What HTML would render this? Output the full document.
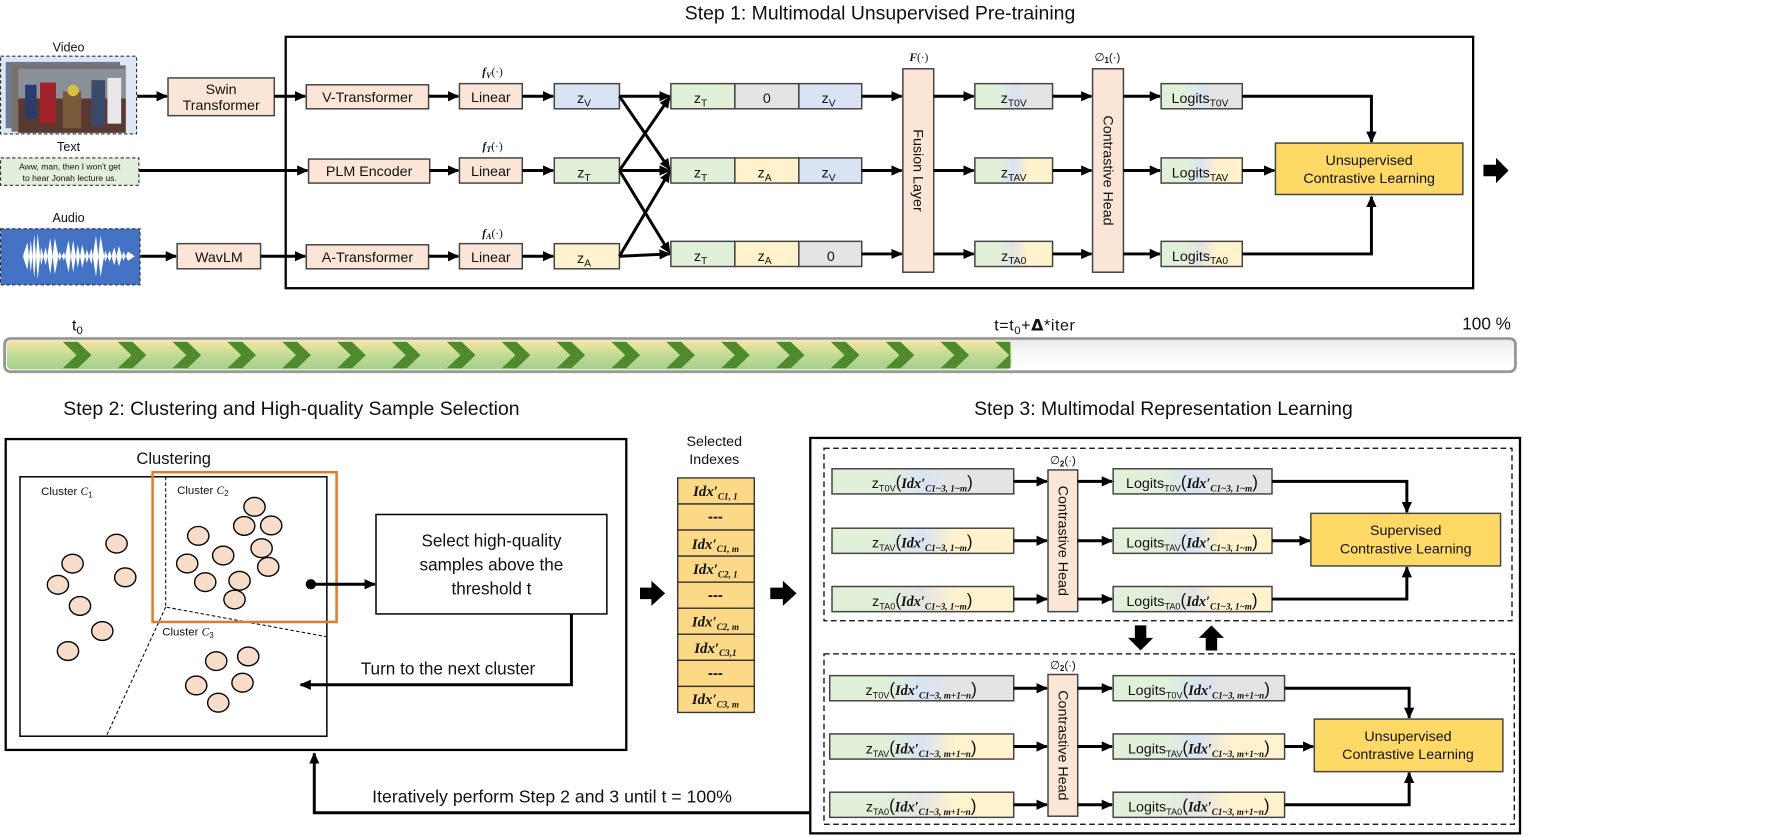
<!DOCTYPE html>
<html><head><meta charset="utf-8"><style>
html,body{margin:0;padding:0;background:#fff;}
svg{display:block;}
text{font-family:"Liberation Sans",Arial,sans-serif;fill:#111;}
.m{font-family:"Liberation Serif",serif;font-style:italic;font-weight:bold;}
.b{fill:#fbe5d6;stroke:#444;stroke-width:1.3;}
.l{stroke:#000;stroke-width:2.6;fill:none;}
</style></head><body>
<svg width="1792" height="837" viewBox="0 0 1568 732" xmlns="http://www.w3.org/2000/svg">
<defs>
<marker id="a" markerWidth="10" markerHeight="10" refX="9" refY="5" orient="auto" markerUnits="userSpaceOnUse"><path d="M0,0.5 L10,5 L0,9.5z" fill="#000"/></marker>
<linearGradient id="g0v" x1="0" x2="1"><stop offset="0" stop-color="#e2f0d9"/><stop offset="0.3" stop-color="#e2f0d9"/><stop offset="0.5" stop-color="#dae3f3"/><stop offset="0.65" stop-color="#e4e4e4"/><stop offset="1" stop-color="#e4e4e4"/></linearGradient>
<linearGradient id="gav" x1="0" x2="1"><stop offset="0" stop-color="#e2f0d9"/><stop offset="0.3" stop-color="#e2f0d9"/><stop offset="0.5" stop-color="#dae3f3"/><stop offset="0.68" stop-color="#fff2cc"/><stop offset="1" stop-color="#fff2cc"/></linearGradient>
<linearGradient id="ga0" x1="0" x2="1"><stop offset="0" stop-color="#e2f0d9"/><stop offset="0.3" stop-color="#e2f0d9"/><stop offset="0.5" stop-color="#e4e4e4"/><stop offset="0.68" stop-color="#fff2cc"/><stop offset="1" stop-color="#fff2cc"/></linearGradient>
<linearGradient id="gbar" x1="0" y1="0" x2="0" y2="1"><stop offset="0" stop-color="#f6e6a0"/><stop offset="0.6" stop-color="#b8d996"/><stop offset="1" stop-color="#a6d08a"/></linearGradient>
<linearGradient id="gwh" x1="0" y1="0" x2="0" y2="1"><stop offset="0" stop-color="#e8e8e8"/><stop offset="0.5" stop-color="#fafafa"/><stop offset="1" stop-color="#ffffff"/></linearGradient>
</defs>

<!-- STEP 1 -->
<text x="770" y="17" font-size="17" text-anchor="middle">Step 1: Multimodal Unsupervised Pre-training</text>
<rect x="250" y="32" width="1039" height="220" fill="none" stroke="#000" stroke-width="2"/>

<text x="60" y="45" font-size="11" text-anchor="middle">Video</text>
<rect x="0.5" y="49" width="119" height="68" fill="#dce7f3" stroke="#333" stroke-dasharray="3,2"/>
<rect x="5" y="54" width="100" height="58" fill="#6b7a93"/>
<rect x="10" y="57" width="100" height="58" fill="#7b6f6a"/>
<rect x="16" y="60" width="94" height="56" fill="#8a8f98"/>
<rect x="16" y="86" width="94" height="30" fill="#5a3a30"/>
<rect x="35" y="72" width="14" height="36" fill="#a0232a"/>
<rect x="55" y="80" width="16" height="32" fill="#7b5a3a"/>
<rect x="80" y="70" width="12" height="40" fill="#3a4a6a"/>
<rect x="94" y="68" width="12" height="40" fill="#e8e8ea"/>
<rect x="22" y="74" width="10" height="30" fill="#2b3b6b"/>
<circle cx="64" cy="79" r="5" fill="#d8c040"/>

<text x="60" y="132" font-size="11" text-anchor="middle">Text</text>
<rect x="0.5" y="138" width="121" height="24" fill="#e2efda" stroke="#333" stroke-dasharray="3,2"/>
<text x="61" y="148" font-size="7.5" text-anchor="middle">Aww, man, then I won't get</text>
<text x="61" y="158" font-size="7.5" text-anchor="middle">to hear Jonah lecture us.</text>

<text x="60" y="194" font-size="11" text-anchor="middle">Audio</text>
<rect x="0.5" y="200" width="122" height="49" fill="#4472c4" stroke="#333" stroke-dasharray="3,2"/>
<path d="M6,224 L20,224 L24,212 L27,238 L30,205 L33,244 L36,216 L40,232 L44,208 L48,240 L52,220 L56,228 L60,210 L64,238 L68,214 L72,234 L76,218 L80,231 L84,206 L88,242 L92,219 L96,229 L100,216 L104,233 L108,220 L112,228 L118,224 L112,220 L108,228 L104,215 L100,232 L96,219 L92,229 L88,206 L84,242 L80,217 L76,230 L72,214 L68,234 L64,210 L60,238 L56,220 L52,228 L48,208 L44,240 L40,216 L36,232 L33,204 L30,243 L27,210 L24,236 L20,224 Z" fill="#fff"/>

<rect class="b" x="147" y="68" width="93" height="33"/>
<text x="193.5" y="82" font-size="12.5" text-anchor="middle">Swin</text>
<text x="193.5" y="96" font-size="12.5" text-anchor="middle">Transformer</text>
<line class="l" x1="120" y1="84" x2="146" y2="84" marker-end="url(#a)"/>
<line class="l" x1="240" y1="84" x2="267" y2="84" marker-end="url(#a)"/>
<line class="l" x1="122" y1="149" x2="269" y2="149" marker-end="url(#a)"/>
<line class="l" x1="123" y1="224" x2="154" y2="224" marker-end="url(#a)"/>
<rect class="b" x="155" y="213" width="73" height="22"/>
<text x="191.5" y="229" font-size="12.5" text-anchor="middle">WavLM</text>
<line class="l" x1="228" y1="224" x2="267" y2="224" marker-end="url(#a)"/>

<rect class="b" x="268" y="74" width="107" height="21"/>
<text x="321.5" y="89" font-size="12.5" text-anchor="middle">V-Transformer</text>
<rect class="b" x="270" y="139" width="106" height="21"/>
<text x="323" y="154" font-size="12.5" text-anchor="middle">PLM Encoder</text>
<rect class="b" x="268" y="214" width="107" height="21"/>
<text x="321.5" y="229" font-size="12.5" text-anchor="middle">A-Transformer</text>

<g font-size="12.5" text-anchor="middle">
<line class="l" x1="375" y1="84" x2="401" y2="84" marker-end="url(#a)"/>
<line class="l" x1="376" y1="149" x2="401" y2="149" marker-end="url(#a)"/>
<line class="l" x1="375" y1="224" x2="401" y2="224" marker-end="url(#a)"/>
<rect class="b" x="402" y="73" width="55" height="22"/><text x="429.5" y="89">Linear</text>
<rect class="b" x="402" y="138" width="55" height="22"/><text x="429.5" y="154">Linear</text>
<rect class="b" x="402" y="213" width="55" height="22"/><text x="429.5" y="229">Linear</text>
</g>
<text class="m" x="431" y="66" font-size="10" text-anchor="middle">f<tspan font-size="7" dy="2">V</tspan><tspan dy="-2" font-weight="normal" font-style="normal">(·)</tspan></text>
<text class="m" x="431" y="131" font-size="10" text-anchor="middle">f<tspan font-size="7" dy="2">T</tspan><tspan dy="-2" font-weight="normal" font-style="normal">(·)</tspan></text>
<text class="m" x="431" y="207" font-size="10" text-anchor="middle">f<tspan font-size="7" dy="2">A</tspan><tspan dy="-2" font-weight="normal" font-style="normal">(·)</tspan></text>
<line class="l" x1="457" y1="84" x2="484" y2="84" marker-end="url(#a)"/>
<line class="l" x1="457" y1="149" x2="484" y2="149" marker-end="url(#a)"/>
<line class="l" x1="457" y1="224" x2="484" y2="224" marker-end="url(#a)"/>
<g font-size="12.5" text-anchor="middle" stroke="#444" stroke-width="1.3">
<rect x="485" y="73" width="57" height="22" fill="#dae3f3"/>
<rect x="485" y="138" width="57" height="22" fill="#e2f0d9"/>
<rect x="485" y="213" width="57" height="22" fill="#fff2cc"/>
</g>
<g font-size="12.5" text-anchor="middle">
<text x="511" y="90">z<tspan font-size="9" dy="3">V</tspan></text>
<text x="511" y="155">z<tspan font-size="9" dy="3">T</tspan></text>
<text x="511" y="230">z<tspan font-size="9" dy="3">A</tspan></text>
</g>
<!-- crossings -->
<g class="l">
<line x1="542" y1="84" x2="586" y2="84" marker-end="url(#a)"/>
<line x1="542" y1="84" x2="586" y2="148" marker-end="url(#a)"/>
<line x1="542" y1="149" x2="586" y2="85" marker-end="url(#a)"/>
<line x1="542" y1="149" x2="586" y2="149" marker-end="url(#a)"/>
<line x1="542" y1="149" x2="586" y2="221" marker-end="url(#a)"/>
<line x1="542" y1="224" x2="586" y2="150" marker-end="url(#a)"/>
<line x1="542" y1="224" x2="586" y2="222" marker-end="url(#a)"/>
</g>
<g stroke="#444" stroke-width="1.3">
<rect x="587" y="73" width="56" height="22" fill="#e2f0d9"/><rect x="643" y="73" width="56" height="22" fill="#e4e4e4"/><rect x="699" y="73" width="55" height="22" fill="#dae3f3"/>
<rect x="587" y="138" width="56" height="22" fill="#e2f0d9"/><rect x="643" y="138" width="56" height="22" fill="#fff2cc"/><rect x="699" y="138" width="55" height="22" fill="#dae3f3"/>
<rect x="587" y="211" width="56" height="22" fill="#e2f0d9"/><rect x="643" y="211" width="56" height="22" fill="#fff2cc"/><rect x="699" y="211" width="55" height="22" fill="#e4e4e4"/>
</g>
<g font-size="12.5" text-anchor="middle">
<text x="613" y="90">z<tspan font-size="9" dy="3">T</tspan></text><text x="671" y="90">0</text><text x="725" y="90">z<tspan font-size="9" dy="3">V</tspan></text>
<text x="613" y="155">z<tspan font-size="9" dy="3">T</tspan></text><text x="669" y="155">z<tspan font-size="9" dy="3">A</tspan></text><text x="725" y="155">z<tspan font-size="9" dy="3">V</tspan></text>
<text x="613" y="228">z<tspan font-size="9" dy="3">T</tspan></text><text x="669" y="228">z<tspan font-size="9" dy="3">A</tspan></text><text x="727" y="228">0</text>
</g>
<line class="l" x1="754" y1="84" x2="789" y2="84" marker-end="url(#a)"/>
<line class="l" x1="754" y1="149" x2="789" y2="149" marker-end="url(#a)"/>
<line class="l" x1="754" y1="222" x2="789" y2="222" marker-end="url(#a)"/>
<rect class="b" x="790" y="60" width="27" height="178"/>
<text x="803.5" y="149" font-size="12.5" text-anchor="middle" transform="rotate(90 803.5 149)" dy="4">Fusion Layer</text>
<text class="m" x="804" y="53" font-size="10" text-anchor="middle">F<tspan font-weight="normal" font-style="normal">(·)</tspan></text>
<line class="l" x1="817" y1="84" x2="852" y2="84" marker-end="url(#a)"/>
<line class="l" x1="817" y1="149" x2="852" y2="149" marker-end="url(#a)"/>
<line class="l" x1="817" y1="222" x2="852" y2="222" marker-end="url(#a)"/>
<g stroke="#444" stroke-width="1.3">
<rect x="853" y="73" width="68" height="22" fill="url(#g0v)"/>
<rect x="853" y="138" width="68" height="22" fill="url(#gav)"/>
<rect x="853" y="211" width="68" height="22" fill="url(#ga0)"/>
</g>
<g font-size="12.5" text-anchor="middle">
<text x="887" y="90">z<tspan font-size="9" dy="3">T0V</tspan></text>
<text x="887" y="155">z<tspan font-size="9" dy="3">TAV</tspan></text>
<text x="887" y="228">z<tspan font-size="9" dy="3">TA0</tspan></text>
</g>
<line class="l" x1="921" y1="84" x2="955" y2="84" marker-end="url(#a)"/>
<line class="l" x1="921" y1="149" x2="955" y2="149" marker-end="url(#a)"/>
<line class="l" x1="921" y1="222" x2="955" y2="222" marker-end="url(#a)"/>
<rect class="b" x="956" y="60" width="27" height="178"/>
<text x="969.5" y="149" font-size="12.5" text-anchor="middle" transform="rotate(90 969.5 149)" dy="4">Contrastive Head</text>
<text x="969" y="53" font-size="10" text-anchor="middle" font-family="Liberation Serif">∅<tspan font-size="7" dy="2" font-weight="bold">1</tspan><tspan dy="-2">(·)</tspan></text>
<line class="l" x1="983" y1="84" x2="1015" y2="84" marker-end="url(#a)"/>
<line class="l" x1="983" y1="149" x2="1015" y2="149" marker-end="url(#a)"/>
<line class="l" x1="983" y1="222" x2="1015" y2="222" marker-end="url(#a)"/>
<g stroke="#444" stroke-width="1.3">
<rect x="1016" y="73" width="71" height="22" fill="url(#g0v)"/>
<rect x="1016" y="138" width="71" height="22" fill="url(#gav)"/>
<rect x="1016" y="211" width="71" height="22" fill="url(#ga0)"/>
</g>
<g font-size="12.5" text-anchor="middle">
<text x="1050" y="90">Logits<tspan font-size="9" dy="3">T0V</tspan></text>
<text x="1050" y="155">Logits<tspan font-size="9" dy="3">TAV</tspan></text>
<text x="1050" y="228">Logits<tspan font-size="9" dy="3">TA0</tspan></text>
</g>
<polyline class="l" points="1087,84 1200,84 1200,124" marker-end="url(#a)"/>
<line class="l" x1="1087" y1="149" x2="1115" y2="149" marker-end="url(#a)"/>
<polyline class="l" points="1087,222 1200,222 1200,172" marker-end="url(#a)"/>
<rect x="1116" y="125" width="164" height="45" fill="#ffd966" stroke="#444" stroke-width="1.3"/>
<text x="1198" y="144" font-size="12.5" text-anchor="middle">Unsupervised</text>
<text x="1198" y="160" font-size="12.5" text-anchor="middle">Contrastive Learning</text>
<polygon points="1298,144 1309,144 1309,138 1320,149 1309,160 1309,154 1298,154" fill="#000"/>

<!-- progress -->
<text x="63" y="289" font-size="14">t<tspan font-size="10" dy="3">0</tspan></text>
<text x="870" y="289" font-size="14" letter-spacing="0.5">t=t<tspan font-size="10" dy="3">0</tspan><tspan dy="-3">+</tspan><tspan font-weight="bold" font-family="DejaVu Sans">Δ</tspan>*iter</text>
<text x="1322" y="288" font-size="15" text-anchor="end">100 %</text>
<rect x="4" y="296" width="1322" height="29" rx="5" fill="url(#gwh)" stroke="#999" stroke-width="2.5"/>
<rect x="6" y="298" width="879" height="25" rx="4" fill="url(#gbar)"/>
<g fill="#4f8a2c">
<polygon points="55,299 68,299 80,310.5 68,322 55,322 67,310.5"/>
<polygon points="103,299 116,299 128,310.5 116,322 103,322 115,310.5"/>
<polygon points="151,299 164,299 176,310.5 164,322 151,322 163,310.5"/>
<polygon points="199,299 212,299 224,310.5 212,322 199,322 211,310.5"/>
<polygon points="247,299 260,299 272,310.5 260,322 247,322 259,310.5"/>
<polygon points="295,299 308,299 320,310.5 308,322 295,322 307,310.5"/>
<polygon points="343,299 356,299 368,310.5 356,322 343,322 355,310.5"/>
<polygon points="391,299 404,299 416,310.5 404,322 391,322 403,310.5"/>
<polygon points="439,299 452,299 464,310.5 452,322 439,322 451,310.5"/>
<polygon points="487,299 500,299 512,310.5 500,322 487,322 499,310.5"/>
<polygon points="535,299 548,299 560,310.5 548,322 535,322 547,310.5"/>
<polygon points="583,299 596,299 608,310.5 596,322 583,322 595,310.5"/>
<polygon points="631,299 644,299 656,310.5 644,322 631,322 643,310.5"/>
<polygon points="679,299 692,299 704,310.5 692,322 679,322 691,310.5"/>
<polygon points="727,299 740,299 752,310.5 740,322 727,322 739,310.5"/>
<polygon points="775,299 788,299 800,310.5 788,322 775,322 787,310.5"/>
<polygon points="823,299 836,299 848,310.5 836,322 823,322 835,310.5"/>
<polygon points="871,299 884,299 884,322 871,322 883,310.5"/>
</g>

<!-- STEP 2 -->
<text x="255" y="363" font-size="17" text-anchor="middle">Step 2: Clustering and High-quality Sample Selection</text>
<rect x="5" y="384" width="543" height="272" fill="none" stroke="#000" stroke-width="2"/>
<text x="152" y="406" font-size="14.5" text-anchor="middle">Clustering</text>
<rect x="17.5" y="417" width="268.5" height="227" fill="none" stroke="#000" stroke-width="1.3"/>
<g stroke="#000" stroke-width="0.9" stroke-dasharray="3,2" fill="none">
<polyline points="145,417 145,531 286,557"/>
<line x1="145" y1="531" x2="93" y2="644"/>
</g>
<rect x="133.5" y="413" width="161" height="131" fill="none" stroke="#e07b2e" stroke-width="2.2"/>
<g font-size="10">
<text x="36" y="433">Cluster <tspan font-family="Liberation Serif" font-style="italic">C</tspan><tspan font-size="7" dy="2">1</tspan></text>
<text x="155" y="432">Cluster <tspan font-family="Liberation Serif" font-style="italic">C</tspan><tspan font-size="7" dy="2">2</tspan></text>
<text x="142" y="556">Cluster <tspan font-family="Liberation Serif" font-style="italic">C</tspan><tspan font-size="7" dy="2">3</tspan></text>
</g>
<g fill="#f8dcca" stroke="#000" stroke-width="1.2">
<ellipse cx="102" cy="475.5" rx="9.3" ry="8.2"/><ellipse cx="63.5" cy="493" rx="9.3" ry="8.2"/><ellipse cx="109.6" cy="505" rx="9.3" ry="8.2"/><ellipse cx="50.7" cy="511.5" rx="9.3" ry="8.2"/><ellipse cx="70" cy="530" rx="9.3" ry="8.2"/><ellipse cx="89.5" cy="552" rx="9.3" ry="8.2"/><ellipse cx="59.5" cy="569.5" rx="9.3" ry="8.2"/>
<ellipse cx="222.7" cy="443.3" rx="9.3" ry="8.2"/><ellipse cx="213.7" cy="460" rx="9.3" ry="8.2"/><ellipse cx="237.3" cy="459.6" rx="9.3" ry="8.2"/><ellipse cx="173.5" cy="468.7" rx="9.3" ry="8.2"/><ellipse cx="228.9" cy="479.5" rx="9.3" ry="8.2"/><ellipse cx="195.3" cy="485.9" rx="9.3" ry="8.2"/><ellipse cx="163.8" cy="492.9" rx="9.3" ry="8.2"/><ellipse cx="234.7" cy="495.8" rx="9.3" ry="8.2"/><ellipse cx="179.6" cy="509.2" rx="9.3" ry="8.2"/><ellipse cx="209.6" cy="508" rx="9.3" ry="8.2"/><ellipse cx="205.2" cy="524.4" rx="9.3" ry="8.2"/>
<ellipse cx="189.2" cy="578.3" rx="9.3" ry="8.2"/><ellipse cx="217.2" cy="574.2" rx="9.3" ry="8.2"/><ellipse cx="171.7" cy="599.6" rx="9.3" ry="8.2"/><ellipse cx="212.2" cy="597.2" rx="9.3" ry="8.2"/><ellipse cx="191" cy="614.7" rx="9.3" ry="8.2"/>
</g>
<circle cx="272" cy="511" r="4.5" fill="#000"/>
<line class="l" x1="272" y1="511" x2="328" y2="511" marker-end="url(#a)"/>
<rect x="329" y="450" width="202" height="87" fill="#fff" stroke="#000" stroke-width="1.3"/>
<g font-size="15" text-anchor="middle">
<text x="430" y="478">Select high-quality</text>
<text x="430" y="499">samples above the</text>
<text x="430" y="520">threshold  t</text>
</g>
<polyline class="l" points="500,537 500,599 263,599" marker-end="url(#a)"/>
<text x="392" y="590" font-size="15" text-anchor="middle">Turn to the next cluster</text>

<!-- selected -->
<polygon points="560,514 570,514 570,508 582,519 570,530 570,524 560,524" fill="#000"/>
<text x="625" y="390" font-size="12.5" text-anchor="middle">Selected</text>
<text x="625" y="406" font-size="12.5" text-anchor="middle">Indexes</text>
<g stroke="#333" stroke-width="1.2" fill="#fbd986">
<rect x="593" y="418" width="67" height="22.8"/><rect x="593" y="440.8" width="67" height="22.8"/><rect x="593" y="463.6" width="67" height="22.8"/><rect x="593" y="486.4" width="67" height="22.8"/><rect x="593" y="509.2" width="67" height="22.8"/><rect x="593" y="532" width="67" height="22.8"/><rect x="593" y="554.8" width="67" height="22.8"/><rect x="593" y="577.6" width="67" height="22.8"/><rect x="593" y="600.4" width="67" height="22.8"/>
</g>
<g font-size="13" text-anchor="middle">
<text class="m" x="626" y="434">Idx′<tspan font-size="8" dy="3">C1, 1</tspan></text>
<text x="626" y="456" font-weight="bold">---</text>
<text class="m" x="626" y="480">Idx′<tspan font-size="8" dy="3">C1, m</tspan></text>
<text class="m" x="626" y="502">Idx′<tspan font-size="8" dy="3">C2, 1</tspan></text>
<text x="626" y="525" font-weight="bold">---</text>
<text class="m" x="626" y="548">Idx′<tspan font-size="8" dy="3">C2, m</tspan></text>
<text class="m" x="626" y="571">Idx′<tspan font-size="8" dy="3">C3,1</tspan></text>
<text x="626" y="593" font-weight="bold">---</text>
<text class="m" x="626" y="616">Idx′<tspan font-size="8" dy="3">C3, m</tspan></text>
</g>
<polygon points="674,514 685,514 685,508 697,519 685,530 685,524 674,524" fill="#000"/>

<!-- iterative -->
<polyline class="l" points="709,711 275,711 275,659" marker-end="url(#a)"/>
<text x="483" y="702" font-size="15.5" text-anchor="middle">Iteratively perform Step 2 and 3 until t = 100%</text>

<!-- STEP 3 -->
<text x="1018" y="363" font-size="17" text-anchor="middle">Step 3: Multimodal Representation Learning</text>
<rect x="709" y="383" width="621" height="346" fill="none" stroke="#000" stroke-width="2"/>
<rect x="721" y="392" width="602" height="151" fill="none" stroke="#000" stroke-width="1.1" stroke-dasharray="5,3"/>
<rect x="721" y="572" width="604" height="149" fill="none" stroke="#000" stroke-width="1.1" stroke-dasharray="5,3"/>

<g stroke="#444" stroke-width="1.3">
<rect x="728" y="410" width="159" height="22" fill="url(#g0v)"/>
<rect x="728" y="462" width="159" height="22" fill="url(#gav)"/>
<rect x="728" y="513" width="159" height="22" fill="url(#ga0)"/>
<rect x="974" y="410" width="139" height="22" fill="url(#g0v)"/>
<rect x="974" y="462" width="139" height="22" fill="url(#gav)"/>
<rect x="974" y="513" width="139" height="22" fill="url(#ga0)"/>
<rect x="726" y="591" width="161" height="22" fill="url(#g0v)"/>
<rect x="726" y="642" width="161" height="22" fill="url(#gav)"/>
<rect x="726" y="693" width="161" height="22" fill="url(#ga0)"/>
<rect x="974" y="591" width="150" height="22" fill="url(#g0v)"/>
<rect x="974" y="642" width="150" height="22" fill="url(#gav)"/>
<rect x="974" y="693" width="150" height="22" fill="url(#ga0)"/>
</g>
<g font-size="12.5" text-anchor="middle">
<text x="807" y="427">z<tspan font-size="8" dy="3">T0V</tspan><tspan dy="-3" font-size="15">(</tspan><tspan class="m">Idx′</tspan><tspan class="m" font-size="8" dy="3">C1~3, 1~m</tspan><tspan dy="-3" font-size="15">)</tspan></text>
<text x="807" y="479">z<tspan font-size="8" dy="3">TAV</tspan><tspan dy="-3" font-size="15">(</tspan><tspan class="m">Idx′</tspan><tspan class="m" font-size="8" dy="3">C1~3, 1~m</tspan><tspan dy="-3" font-size="15">)</tspan></text>
<text x="807" y="530">z<tspan font-size="8" dy="3">TA0</tspan><tspan dy="-3" font-size="15">(</tspan><tspan class="m">Idx′</tspan><tspan class="m" font-size="8" dy="3">C1~3, 1~m</tspan><tspan dy="-3" font-size="15">)</tspan></text>
<text x="1043" y="427">Logits<tspan font-size="8" dy="3">T0V</tspan><tspan dy="-3" font-size="15">(</tspan><tspan class="m">Idx′</tspan><tspan class="m" font-size="8" dy="3">C1~3, 1~m</tspan><tspan dy="-3" font-size="15">)</tspan></text>
<text x="1043" y="479">Logits<tspan font-size="8" dy="3">TAV</tspan><tspan dy="-3" font-size="15">(</tspan><tspan class="m">Idx′</tspan><tspan class="m" font-size="8" dy="3">C1~3, 1~m</tspan><tspan dy="-3" font-size="15">)</tspan></text>
<text x="1043" y="530">Logits<tspan font-size="8" dy="3">TA0</tspan><tspan dy="-3" font-size="15">(</tspan><tspan class="m">Idx′</tspan><tspan class="m" font-size="8" dy="3">C1~3, 1~m</tspan><tspan dy="-3" font-size="15">)</tspan></text>
<text x="806" y="608">z<tspan font-size="8" dy="3">T0V</tspan><tspan dy="-3" font-size="15">(</tspan><tspan class="m">Idx′</tspan><tspan class="m" font-size="8" dy="3">C1~3, m+1~n</tspan><tspan dy="-3" font-size="15">)</tspan></text>
<text x="806" y="659">z<tspan font-size="8" dy="3">TAV</tspan><tspan dy="-3" font-size="15">(</tspan><tspan class="m">Idx′</tspan><tspan class="m" font-size="8" dy="3">C1~3, m+1~n</tspan><tspan dy="-3" font-size="15">)</tspan></text>
<text x="806" y="710">z<tspan font-size="8" dy="3">TA0</tspan><tspan dy="-3" font-size="15">(</tspan><tspan class="m">Idx′</tspan><tspan class="m" font-size="8" dy="3">C1~3, m+1~n</tspan><tspan dy="-3" font-size="15">)</tspan></text>
<text x="1049" y="608">Logits<tspan font-size="8" dy="3">T0V</tspan><tspan dy="-3" font-size="15">(</tspan><tspan class="m">Idx′</tspan><tspan class="m" font-size="8" dy="3">C1~3, m+1~n</tspan><tspan dy="-3" font-size="15">)</tspan></text>
<text x="1049" y="659">Logits<tspan font-size="8" dy="3">TAV</tspan><tspan dy="-3" font-size="15">(</tspan><tspan class="m">Idx′</tspan><tspan class="m" font-size="8" dy="3">C1~3, m+1~n</tspan><tspan dy="-3" font-size="15">)</tspan></text>
<text x="1049" y="710">Logits<tspan font-size="8" dy="3">TA0</tspan><tspan dy="-3" font-size="15">(</tspan><tspan class="m">Idx′</tspan><tspan class="m" font-size="8" dy="3">C1~3, m+1~n</tspan><tspan dy="-3" font-size="15">)</tspan></text>
</g>
<rect class="b" x="917" y="411" width="26" height="124"/>
<text x="930" y="473" font-size="12.5" text-anchor="middle" transform="rotate(90 930 473)" dy="4">Contrastive Head</text>
<text x="930" y="406" font-size="10" text-anchor="middle" font-family="Liberation Serif">∅<tspan font-size="7" dy="2" font-weight="bold">2</tspan><tspan dy="-2">(·)</tspan></text>
<rect class="b" x="917" y="590" width="26" height="124"/>
<text x="930" y="652" font-size="12.5" text-anchor="middle" transform="rotate(90 930 652)" dy="4">Contrastive Head</text>
<text x="930" y="585" font-size="10" text-anchor="middle" font-family="Liberation Serif">∅<tspan font-size="7" dy="2" font-weight="bold">2</tspan><tspan dy="-2">(·)</tspan></text>
<g class="l">
<line x1="887" y1="421" x2="916" y2="421" marker-end="url(#a)"/>
<line x1="887" y1="473" x2="916" y2="473" marker-end="url(#a)"/>
<line x1="887" y1="524" x2="916" y2="524" marker-end="url(#a)"/>
<line x1="943" y1="421" x2="973" y2="421" marker-end="url(#a)"/>
<line x1="943" y1="473" x2="973" y2="473" marker-end="url(#a)"/>
<line x1="943" y1="524" x2="973" y2="524" marker-end="url(#a)"/>
<line x1="887" y1="602" x2="916" y2="602" marker-end="url(#a)"/>
<line x1="887" y1="653" x2="916" y2="653" marker-end="url(#a)"/>
<line x1="887" y1="704" x2="916" y2="704" marker-end="url(#a)"/>
<line x1="943" y1="602" x2="973" y2="602" marker-end="url(#a)"/>
<line x1="943" y1="653" x2="973" y2="653" marker-end="url(#a)"/>
<line x1="943" y1="704" x2="973" y2="704" marker-end="url(#a)"/>
<polyline points="1113,421 1231,421 1231,448" marker-end="url(#a)"/>
<line x1="1113" y1="473" x2="1146" y2="473" marker-end="url(#a)"/>
<polyline points="1113,524 1231,524 1231,496" marker-end="url(#a)"/>
<polyline points="1124,602 1233,602 1233,628" marker-end="url(#a)"/>
<line x1="1124" y1="653" x2="1149" y2="653" marker-end="url(#a)"/>
<polyline points="1124,704 1233,704 1233,676" marker-end="url(#a)"/>
</g>
<rect x="1147" y="449" width="166" height="46" fill="#ffd966" stroke="#444" stroke-width="1.3"/>
<text x="1230" y="468" font-size="12.5" text-anchor="middle">Supervised</text>
<text x="1230" y="484" font-size="12.5" text-anchor="middle">Contrastive Learning</text>
<rect x="1150" y="629" width="165" height="46" fill="#ffd966" stroke="#444" stroke-width="1.3"/>
<text x="1232" y="648" font-size="12.5" text-anchor="middle">Unsupervised</text>
<text x="1232" y="664" font-size="12.5" text-anchor="middle">Contrastive Learning</text>
<polygon points="993,547 1003,547 1003,558 1009,558 998,569 987,558 993,558" fill="#000"/>
<polygon points="1055,569 1065,569 1065,558 1071,558 1060,547 1049,558 1055,558" fill="#000"/>
</svg>
</body></html>
